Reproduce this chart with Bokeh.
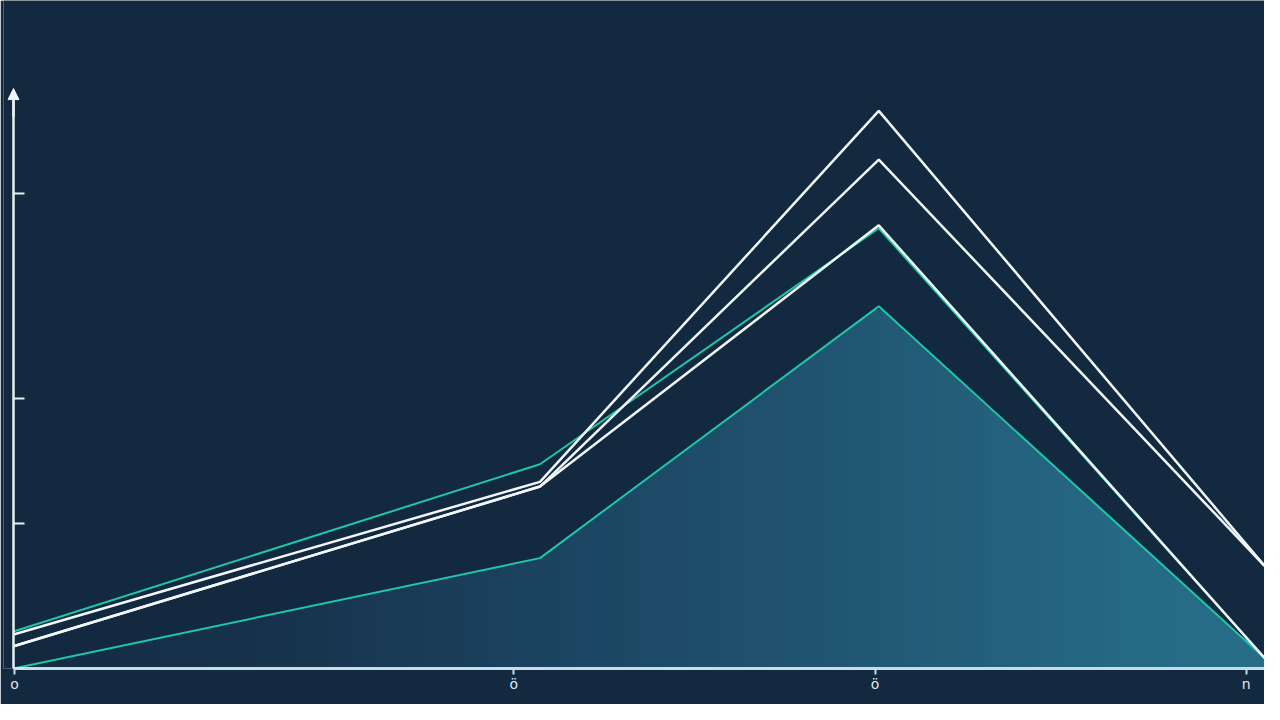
import numpy as np
from bokeh.plotting import figure
from bokeh.models import Range1d, FixedTicker, Arrow, NormalHead
from bokeh.embed import file_html
from bokeh.resources import INLINE

# ---- data ----
x_pts = [0.0, 10.1, 16.6, 24.0]
white_a = [5.8, 31.8, 95.0, 17.5]
white_b = [3.8, 31.0, 86.7, 17.5]
white_c = [3.8, 31.0, 75.5, 1.8]
teal_a = [6.3, 34.8, 75.0, 1.8]
teal_area = [0.0, 18.8, 61.7, 1.8]

x_ticks = [0.02, 9.6, 16.53, 23.65]
x_tick_labels = ["o", "ö", "ö", "n"]
y_ticks = [0.0, 24.7, 46.0, 81.0]

BG = "#13293f"
WHITE = "#f1f6f9"
TEAL = "#1fc6aa"

p = figure(width=1264, height=704, output_backend="svg", toolbar_location=None,
           x_range=Range1d(-0.192, 24.0), y_range=Range1d(0, 113.8),
           min_border_left=3, min_border_right=0, min_border_top=0, min_border_bottom=36)
p.background_fill_color = BG
p.border_fill_color = BG
p.outline_line_color = None
p.grid.visible = False

# axes
xa = p.xaxis[0]
xa.ticker = FixedTicker(ticks=x_ticks)
xa.major_label_overrides = {t: l for t, l in zip(x_ticks, x_tick_labels)}
xa.bounds = (0, 24.0)
xa.axis_line_color = "#c4dde6"
xa.axis_line_width = 3
xa.major_tick_line_color = "#c4dde6"
xa.major_tick_line_width = 2
xa.major_tick_in = 0
xa.major_tick_out = 6
xa.minor_tick_line_color = None
xa.major_label_standoff = 1
xa.major_label_text_color = "#dce8ee"
xa.major_label_text_font_size = "14px"
xa.major_label_text_font = "DejaVu Sans"

ya = p.yaxis[0]
ya.fixed_location = 0
ya.ticker = FixedTicker(ticks=y_ticks)
ya.major_label_overrides = {t: "" for t in y_ticks}
ya.major_label_text_font_size = "0px"
ya.major_label_standoff = 0
ya.axis_line_color = "#e6f0f4"
ya.axis_line_width = 2.5
ya.major_tick_line_color = "#e6f0f4"
ya.major_tick_line_width = 2
ya.major_tick_in = 11
ya.major_tick_out = 0
ya.minor_tick_line_color = None
ya.bounds = (0, 97.5)

p.add_layout(Arrow(end=NormalHead(size=11, fill_color="#f2f7fa", line_color="#f2f7fa"),
                   line_color="#e6f0f4", line_width=2.5,
                   x_start=0, y_start=94.0, x_end=0, y_end=98.8))

# gradient fill under teal area
def hex_to_rgb(h):
    h = h.lstrip("#")
    return np.array([int(h[i:i + 2], 16) for i in (0, 2, 4)], dtype=float)

stop_x = [0, 5, 10, 15, 21.5, 24]
stop_c = [hex_to_rgb(c) for c in ["#142c44", "#17324c", "#1b4360", "#20536f", "#266a85", "#286d88"]]
edges = np.linspace(x_pts[0], x_pts[-1], 161)
xs, ys, cols = [], [], []
for a, b in zip(edges[:-1], edges[1:]):
    ta = np.interp(a, x_pts, teal_area)
    tb = np.interp(b, x_pts, teal_area)
    xs.append([a, b + 0.02, b + 0.02, a])
    ys.append([0, 0, tb, ta])
    m = 0.5 * (a + b)
    rgb = [np.interp(m, stop_x, [c[k] for c in stop_c]) for k in range(3)]
    cols.append("#%02x%02x%02x" % tuple(int(round(v)) for v in rgb))
p.patches(xs, ys, fill_color=cols, line_color=None)

# lines
p.line(x_pts, teal_area, line_color=TEAL, line_width=2)
p.line(x_pts, teal_a, line_color=TEAL, line_width=2)
p.line(x_pts, white_c, line_color=WHITE, line_width=2.5)
p.line(x_pts, white_b, line_color=WHITE, line_width=2.5)
p.line(x_pts, white_a, line_color=WHITE, line_width=2.5)

html = file_html(p, INLINE)
html = html.replace("<body>", '<body style="background-color:%s;">' % BG, 1)
open("out.html", "w").write(html)
